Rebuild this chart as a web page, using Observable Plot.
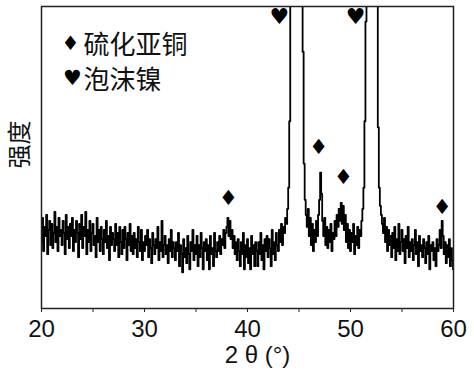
<!DOCTYPE html>
<html>
<head>
<meta charset="utf-8">
<script src="https://cdn.jsdelivr.net/npm/d3@7"></script>
<script src="https://cdn.jsdelivr.net/npm/@observablehq/plot@0.6"></script>
<style>
  html, body { margin: 0; padding: 0; background: #fff; }
  #chart svg { display: block; }
</style>
</head>
<body>
<div id="chart"></div>
<script>
// 2θ grid: start, step (degrees)
const twoThetaStart = 20;
const twoThetaStep = 0.1;
// Intensity (arbitrary units), one row per degree (20.0 ... 60.0)
const intensity = [
  22, 30, 19, 27, 24, 31, 18, 26, 29, 21,
  28, 20, 25, 32, 22, 27, 19, 30, 24, 26,
  21, 29, 25, 18, 31, 23, 27, 20, 28, 24,
  30, 19, 26, 22, 29, 25, 17, 28, 23, 31,
  20, 27, 24, 32, 18, 26, 22, 29, 19, 25,
  28, 21, 24, 17, 30, 22, 26, 19, 27, 23,
  18, 26, 22, 29, 20, 24, 16, 27, 21, 25,
  23, 19, 28, 21, 25, 17, 27, 22, 18, 26,
  20, 27, 23, 16, 25, 21, 28, 19, 24, 18,
  25, 20, 23, 17, 27, 22, 19, 26, 16, 22,
  19, 24, 21, 26, 17, 23, 20, 15, 25, 21,
  18, 23, 20, 27, 16, 22, 19, 29, 17, 21,
  24, 18, 21, 15, 23, 19, 26, 17, 22, 20,
  16, 22, 19, 25, 14, 21, 18, 12, 23, 17,
  20, 15, 24, 18, 13, 22, 19, 26, 16, 21,
  18, 24, 14, 21, 17, 25, 20, 13, 22, 19,
  23, 16, 21, 13, 24, 18, 20, 14, 25, 19,
  17, 22, 19, 24, 18, 23, 21, 26, 20, 25,
  27, 30, 24, 29, 23, 26, 20, 24, 18, 22,
  16, 23, 19, 14, 22, 18, 25, 13, 21, 17,
  23, 15, 20, 13, 24, 18, 21, 14, 22, 19,
  14, 22, 18, 25, 16, 21, 13, 23, 19, 24,
  17, 23, 20, 14, 26, 18, 22, 16, 25, 21,
  19, 26, 22, 28, 21, 27, 25, 30, 28, 33,
  40, 62, 115, 220, 400, 600, 700, 650, 450, 300,
  220, 160, 125, 112, 85, 48, 36, 31, 27, 33,
  24, 30, 21, 28, 19, 26, 22, 29, 24, 31,
  36, 45, 38, 29, 24, 30, 21, 27, 20, 26,
  22, 28, 19, 25, 23, 29, 24, 31, 27, 33,
  29, 35, 28, 34, 26, 31, 22, 28, 20, 26,
  19, 25, 22, 28, 18, 24, 21, 27, 20, 26,
  24, 29, 33, 40, 62, 95, 200, 500, 800, 750,
  600, 450, 320, 230, 170, 130, 108, 60, 40, 34,
  31, 28, 25, 30, 22, 27, 19, 26, 21, 24,
  17, 25, 20, 27, 16, 23, 19, 28, 18, 22,
  26, 19, 23, 15, 24, 20, 27, 17, 22, 19,
  23, 16, 21, 26, 18, 22, 14, 24, 19, 21,
  17, 23, 20, 15, 22, 18, 24, 13, 21, 19,
  22, 16, 20, 14, 23, 19, 21, 26, 20, 29,
  24, 18, 22, 15, 21, 17, 23, 14, 20, 16,
  13
];
// Peak markers
const cu2sPeakX = [38.15, 46.9, 49.3, 58.9];
const cu2sMarkY = [36.4, 53.3, 43.4, 33.4];
const niPeakX = [43.1, 50.5];
const niMarkY = [96.5, 96.5];
// Axis / legend text
const xTicks = [20, 30, 40, 50, 60];
const xMinorTicks = [25, 35, 45, 55];
const legendSymbols = ["♦", "♥"];
const legendLabels = ["硫化亚铜", "泡沫镍"];
const xTitle = "2 θ (°)";
const yTitle = "强度";

const pattern = intensity.map((v, i) => ({x: +(twoThetaStart + i * twoThetaStep).toFixed(2), y: v}));
const cu2s = cu2sPeakX.map((x, i) => ({x, y: cu2sMarkY[i]}));
const ni = niPeakX.map((x, i) => ({x, y: niMarkY[i]}));

const symFont = "DejaVu Sans";
const cjkFont = "Noto Sans CJK SC";

const chart = Plot.plot({
  width: 474,
  height: 383,
  marginLeft: 41,
  marginRight: 21,
  marginTop: 6,
  marginBottom: 75,
  style: {fontFamily: "Liberation Sans, Arial, sans-serif", fontSize: "24px", color: "#111", background: "#fff"},
  x: {domain: [20, 60], axis: null},
  y: {domain: [0, 100], axis: null},
  marks: [
    Plot.line(pattern, {x: "x", y: "y", stroke: "#000", strokeWidth: 1.8, curve: "step", clip: true}),
    Plot.frame({stroke: "#222", strokeWidth: 1.5}),
    Plot.axisX(xTicks, {tickSize: 4, tickPadding: 7, fontSize: 24, label: null, stroke: "#222"}),
    Plot.axisX(xMinorTicks, {tickSize: 4, tickFormat: () => "", label: null, stroke: "#222"}),
    Plot.text(cu2s, {x: "x", y: "y", text: () => legendSymbols[0], fontFamily: symFont, fontSize: 21, fill: "#000"}),
    Plot.text(ni, {x: "x", y: "y", text: () => legendSymbols[1], fontFamily: symFont, fontSize: 22, fill: "#000"}),
    Plot.text([legendSymbols[0]], {frameAnchor: "top-left", dx: 29, dy: 29, fontFamily: symFont, fontSize: 20, textAnchor: "middle", fill: "#000"}),
    Plot.text([legendLabels[0]], {frameAnchor: "top-left", dx: 42, dy: 29, fontFamily: cjkFont, fontSize: 26, textAnchor: "start", fill: "#111"}),
    Plot.text([legendSymbols[1]], {frameAnchor: "top-left", dx: 31, dy: 64, fontFamily: symFont, fontSize: 21, textAnchor: "middle", fill: "#000"}),
    Plot.text([legendLabels[1]], {frameAnchor: "top-left", dx: 42, dy: 64, fontFamily: cjkFont, fontSize: 26, textAnchor: "start", fill: "#111"}),
    Plot.text([xTitle], {frameAnchor: "bottom", dx: 10, dy: 54, fontSize: 24, fill: "#111"}),
    Plot.text([yTitle], {frameAnchor: "left", dx: -21, dy: -13, rotate: -90, textAnchor: "middle", fontFamily: cjkFont, fontSize: 24, fill: "#111"})
  ]
});
document.getElementById("chart").appendChild(chart);
</script>
</body>
</html>
